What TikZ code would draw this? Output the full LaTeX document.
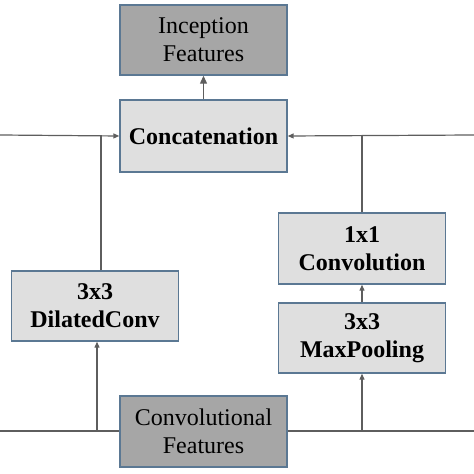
\documentclass[tikz,border=0pt]{standalone}
\usepackage{fontspec}
\setmainfont{Liberation Serif}
\usetikzlibrary{positioning, arrows.meta, calc}

\definecolor{boxedge}{HTML}{5B7893}
\definecolor{wire}{HTML}{5E5E5E}

\begin{document}
\begin{tikzpicture}[
    x=1pt, y=1pt,
    featbox/.style={
        draw=boxedge,
        line width=1.4pt,
        rectangle,
        fill=gray!70,
        minimum width=167pt,
        minimum height=70pt,
        align=center,
        font=\fontsize{24}{28}\selectfont
    },
    opbox/.style={
        draw=boxedge,
        line width=1.4pt,
        rectangle,
        fill=gray!25,
        minimum width=167pt,
        minimum height=71pt,
        align=center,
        font=\fontsize{24}{28}\selectfont\bfseries
    },
    wireline/.style={
        line width=1.2pt,
        wire
    },
    arr/.style={
        -{Triangle[length=6pt, width=5pt]},
        line width=1.2pt,
        wire
    }
]
    \useasboundingbox (0,0) rectangle (474,474);

    % Free ends at the picture border
    \coordinate (leftin) at (0,339);
    \coordinate (rightin) at (474,339);
    \coordinate (leftbot) at (0,43);
    \coordinate (rightbot) at (474,43);

    % Bottom feed line (behind the input box)
    \draw[wireline] (leftbot) -- (rightbot);

    % Nodes
    \node[featbox] (incep) at (203.5,434) {Inception\\Features};
    \node[opbox, minimum height=72pt] (concat) at (203.5,338) {Concatenation};
    \node[opbox, minimum height=70pt] (dilated) at (95,168) {3x3\\DilatedConv};
    \node[opbox] (conv1) at (362,225.5) {1x1\\Convolution};
    \node[opbox, minimum height=70pt] (maxpool) at (362,136) {3x3\\MaxPooling};
    \node[featbox, minimum height=71pt] (convfeat) at (203.5,42.5) {Convolutional\\Features};

    % Taps on the branch lines
    \coordinate (dilout) at ($(dilated.north)+(6,0)$);
    \coordinate (dilin) at ($(dilated.south)+(2,0)$);

    % Output
    \draw[arr, -{Triangle[length=8pt, width=7pt]}] (concat.north) -- (incep.south);

    % Branches into the concatenation
    \draw[arr] (leftin) -- (concat.west);
    \draw[arr] (rightin) -- (concat.east);
    \draw[wireline] (dilout) -- (dilout |- leftin);
    \draw[wireline] (conv1.north) -- (conv1.north |- rightin);
    \draw[arr] (maxpool.north) -- (conv1.south);

    % Branches from the input line
    \draw[arr] (dilin |- leftbot) -- (dilin);
    \draw[arr] (maxpool.south |- rightbot) -- (maxpool.south);

\end{tikzpicture}
\end{document}
